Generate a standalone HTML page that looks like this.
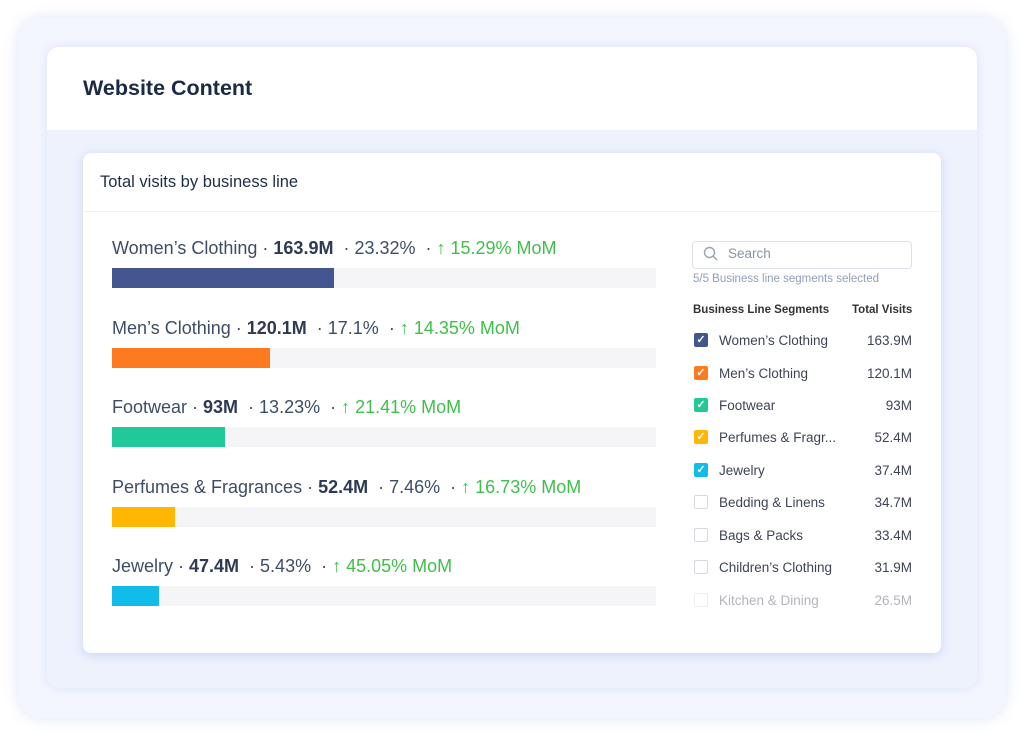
<!DOCTYPE html>
<html><head><meta charset="utf-8"><style>
body{margin:0;width:1024px;height:736px;background:#fff;font-family:"Liberation Sans",sans-serif;position:relative;overflow:hidden}
.abs{position:absolute}
.outer{left:18px;top:18px;width:988px;height:700px;background:#f3f6fe;border-radius:24px;box-shadow:0 0 14px rgba(120,150,230,.25)}
.panel{left:47px;top:47px;width:930px;height:641px;background:#edf2fd;border-radius:12px;overflow:hidden;box-shadow:0 0 10px rgba(120,150,230,.2)}
.head{left:0;top:0;width:930px;height:83px;background:#fff}
.card{left:83px;top:153px;width:858px;height:500px;background:#fff;border-radius:8px;box-shadow:0 2px 10px rgba(100,130,210,.25)}
.lbl{left:112px;font-size:18px;color:#3d4d66;white-space:nowrap}
.lbl b{color:#2d3a52}
.g{color:#3fbf4a}
.track{left:112px;width:544px;height:20px;background:#f5f5f7}
.row{left:694px;width:218px;height:16px;font-size:13.5px;color:#3d4454}
.cb{position:absolute;left:0;top:0;width:14px;height:14px;border-radius:2px;color:#fff;font-size:11px;font-weight:bold;text-align:center;line-height:14px}
.un{border:1px solid #d5d9e0;width:12px;height:12px;background:#fff}
.nm{position:absolute;left:25px;top:0}
.vl{position:absolute;right:0;top:0}
</style></head><body>
<div class="abs outer"></div>
<div class="abs panel"><div class="abs head"></div>
<div class="abs" style="left:36px;top:29px;font-size:21.5px;font-weight:bold;color:#1b2a45">Website Content</div></div>
<div class="abs card"></div>
<div class="abs" style="left:100px;top:173px;font-size:16.5px;color:#1f2d45">Total visits by business line</div>
<div class="abs" style="left:83px;top:211px;width:858px;height:1px;background:#eef0f4"></div>

<div class="abs lbl" style="top:238px">Women’s Clothing · <b>163.9M</b> &nbsp;· 23.32% &nbsp;· <span class="g">↑ 15.29% MoM</span></div>
<div class="abs track" style="top:268px"></div><div class="abs" style="left:112px;top:268px;width:222px;height:20px;background:#44568f"></div>
<div class="abs lbl" style="top:318px">Men’s Clothing · <b>120.1M</b> &nbsp;· 17.1% &nbsp;· <span class="g">↑ 14.35% MoM</span></div>
<div class="abs track" style="top:348px"></div><div class="abs" style="left:112px;top:348px;width:158px;height:20px;background:#fd7a1f"></div>
<div class="abs lbl" style="top:397px">Footwear · <b>93M</b> &nbsp;· 13.23% &nbsp;· <span class="g">↑ 21.41% MoM</span></div>
<div class="abs track" style="top:427px"></div><div class="abs" style="left:112px;top:427px;width:113px;height:20px;background:#20c997"></div>
<div class="abs lbl" style="top:477px">Perfumes &amp; Fragrances · <b>52.4M</b> &nbsp;· 7.46% &nbsp;· <span class="g">↑ 16.73% MoM</span></div>
<div class="abs track" style="top:507px"></div><div class="abs" style="left:112px;top:507px;width:63px;height:20px;background:#ffb703"></div>
<div class="abs lbl" style="top:556px">Jewelry · <b>47.4M</b> &nbsp;· 5.43% &nbsp;· <span class="g">↑ 45.05% MoM</span></div>
<div class="abs track" style="top:586px"></div><div class="abs" style="left:112px;top:586px;width:47px;height:20px;background:#11bde8"></div>

<div class="abs" style="left:692px;top:241px;width:218px;height:26px;border:1px solid #dde1e8;border-radius:4px"></div>
<svg class="abs" style="left:703px;top:246px" width="16" height="16"><circle cx="6.5" cy="6.5" r="5" fill="none" stroke="#9aa3b2" stroke-width="1.4"/><line x1="10" y1="10" x2="14" y2="14" stroke="#9aa3b2" stroke-width="1.4"/></svg>
<div class="abs" style="left:728px;top:246px;font-size:13.5px;color:#8a93a3">Search</div>
<div class="abs" style="left:693px;top:273px;font-size:11.5px;color:#8fa0b8">5/5 Business line segments selected</div>
<div class="abs" style="left:693px;top:304px;font-size:11.5px;font-weight:bold;color:#333">Business Line Segments</div>
<div class="abs" style="left:852px;top:304px;font-size:11.5px;font-weight:bold;color:#333">Total Visits</div>

<div class="abs row" style="top:333px"><div class="cb" style="background:#44568f">✓</div><span class="nm">Women’s Clothing</span><span class="vl">163.9M</span></div>
<div class="abs row" style="top:366px"><div class="cb" style="background:#fd7a1f">✓</div><span class="nm">Men’s Clothing</span><span class="vl">120.1M</span></div>
<div class="abs row" style="top:398px"><div class="cb" style="background:#20c997">✓</div><span class="nm">Footwear</span><span class="vl">93M</span></div>
<div class="abs row" style="top:430px"><div class="cb" style="background:#ffb703">✓</div><span class="nm">Perfumes &amp; Fragr...</span><span class="vl">52.4M</span></div>
<div class="abs row" style="top:463px"><div class="cb" style="background:#11bde8">✓</div><span class="nm">Jewelry</span><span class="vl">37.4M</span></div>
<div class="abs row" style="top:495px"><div class="cb un"></div><span class="nm">Bedding &amp; Linens</span><span class="vl">34.7M</span></div>
<div class="abs row" style="top:528px"><div class="cb un"></div><span class="nm">Bags &amp; Packs</span><span class="vl">33.4M</span></div>
<div class="abs row" style="top:560px"><div class="cb un"></div><span class="nm">Children’s Clothing</span><span class="vl">31.9M</span></div>
<div class="abs row" style="top:593px;opacity:.4"><div class="cb un"></div><span class="nm">Kitchen &amp; Dining</span><span class="vl">26.5M</span></div>
</body></html>
